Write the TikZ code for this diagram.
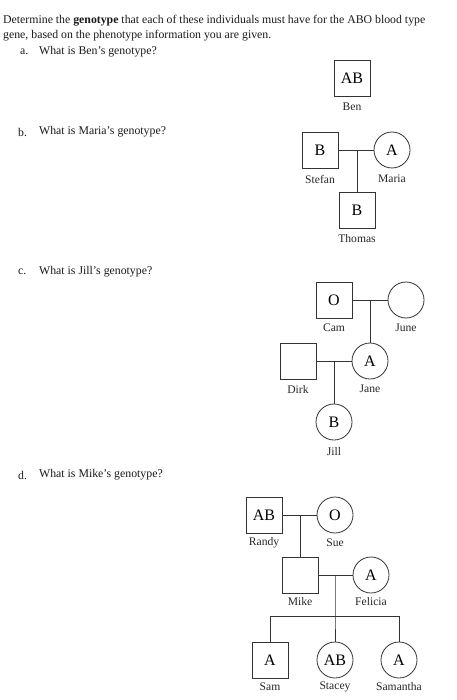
\documentclass[tikz,border=0pt]{standalone}
\usepackage{fontspec}
\setmainfont{Liberation Serif}
\begin{document}
\begin{tikzpicture}[x=1pt,y=-1pt,
  ln/.style={draw=black!80, line width=0.8pt},
  male/.style={ln, rectangle, minimum size=36pt, inner sep=0pt, font=\fontsize{16}{16}\selectfont},
  female/.style={ln, circle, minimum size=36pt, inner sep=0pt, font=\fontsize{16}{16}\selectfont},
  lbl/.style={font=\fontsize{11.6}{12}\selectfont, text=black!85, inner sep=0pt},
  qtext/.style={font=\fontsize{11.8}{12}\selectfont, anchor=west, inner sep=0pt, text=black!90}]
\useasboundingbox (0,0) rectangle (456,700);

% text
\node[qtext] (t1) at (3,21) {Determine the \textbf{genotype} that each of these individuals must have for the ABO blood type};
\node[qtext] (t2) at (3,36) {gene, based on the phenotype information you are given.};
\node[qtext] (qa) at (20,52) {a.};
\node[qtext] (qat) at (39,52) {What is Ben’s genotype?};
\node[qtext] (qb) at (18,132) {b.};
\node[qtext] (qbt) at (39,132) {What is Maria’s genotype?};
\node[qtext] (qc) at (18,272) {c.};
\node[qtext] (qct) at (39,272) {What is Jill’s genotype?};
\node[qtext] (qd) at (18,475) {d.};
\node[qtext] (qdt) at (39,475) {What is Mike’s genotype?};

% a
\node[male] (Ben) at (352,78) {AB};
\node[lbl] (lBen) at (352,107) {Ben};

% b
\node[male] (Stefan) at (320,150) {B};
\node[female] (Maria) at (392,150) {A};
\node[male] (Thomas) at (357,210) {B};
\node[lbl] (lStefan) at (320,179) {Stefan};
\node[lbl] (lMaria) at (392,179) {Maria};
\node[lbl] (lThomas) at (357,239) {Thomas};
\coordinate (m1) at (357,150);
\draw[ln] (Stefan.east) -- (Maria.west);
\draw[ln] (m1) -- (Thomas.north);

% c
\node[male] (Cam) at (334,300) {O};
\node[female] (June) at (406,300) {};
\node[female] (Jane) at (370,361) {A};
\node[male] (Dirk) at (298,361) {};
\node[female] (Jill) at (334,422) {B};
\node[lbl] (lCam) at (334,328) {Cam};
\node[lbl] (lJune) at (406,328) {June};
\node[lbl] (lDirk) at (298,389) {Dirk};
\node[lbl] (lJane) at (370,389) {Jane};
\node[lbl] (lJill) at (334,452) {Jill};
\coordinate (m2) at (370,300);
\coordinate (m3) at (334,361);
\draw[ln] (Cam.east) -- (June.west);
\draw[ln] (m2) -- (Jane.north);
\draw[ln] (Dirk.east) -- (Jane.west);
\draw[ln] (m3) -- (Jill.north);

% d
\node[male] (Randy) at (264,515) {AB};
\node[female] (Sue) at (335,515) {O};
\node[male] (Mike) at (300,575) {};
\node[female] (Felicia) at (371,575) {A};
\node[male] (Sam) at (270,660) {A};
\node[female] (Stacey) at (335,660) {AB};
\node[female] (Samantha) at (399,660) {A};
\node[lbl] (lRandy) at (264,543) {Randy};
\node[lbl] (lSue) at (335,543) {Sue};
\node[lbl] (lMike) at (300,602) {Mike};
\node[lbl] (lFelicia) at (371,602) {Felicia};
\node[lbl] (lSam) at (270,687) {Sam};
\node[lbl] (lStacey) at (335,687) {Stacey};
\node[lbl] (lSamantha) at (399,687) {Samantha};
\coordinate (m4) at (300,515);
\coordinate (m5) at (335,575);
\coordinate (sb) at (335,617);
\draw[ln] (Randy.east) -- (Sue.west);
\draw[ln] (m4) -- (Mike.north);
\draw[ln] (Mike.east) -- (Felicia.west);
\draw[ln] (m5) -- (sb) -- (Stacey.north);
\draw[ln] (Sam.north) -- ++(0,-25) -| (Samantha.north);
\end{tikzpicture}
\end{document}
